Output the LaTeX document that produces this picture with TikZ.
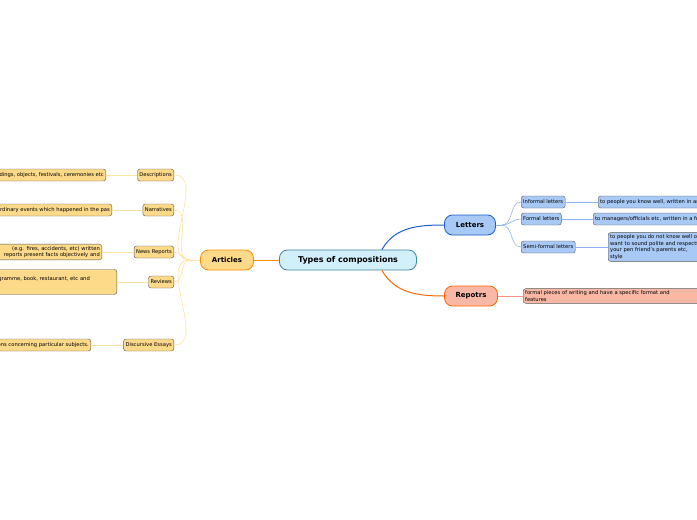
\documentclass[tikz,border=0pt]{standalone}
\usepackage{fontspec}
\setmainfont{DejaVu Sans}
\begin{document}
\begin{tikzpicture}[x=1pt,y=-1pt,
  base/.style={rounded corners=2.5pt,draw,inner sep=2pt,font=\fontsize{5.2}{6.6}\selectfont,align=left},
  ychild/.style={base,fill=yfill,draw=gray!70!black,minimum height=12pt},
  bchild/.style={base,fill=bfill,draw=gray!70!black,minimum height=12pt},
  rchild/.style={base,fill=rfill,draw=gray!70!black,minimum height=12pt},
  big/.style={rounded corners=8pt,draw,line width=0.8pt,font=\bfseries\fontsize{7}{8}\selectfont,minimum height=20pt},
  yl/.style={draw=yline,line width=0.6pt},
  bl/.style={draw=bline,line width=0.6pt}]
\definecolor{yfill}{HTML}{FDD98A}
\definecolor{bfill}{HTML}{A8C9F5}
\definecolor{rfill}{HTML}{F8B8A5}
\definecolor{yline}{HTML}{FDE3A0}
\definecolor{bline}{HTML}{8FB6F0}
\definecolor{bmain}{HTML}{1A5FCC}
\useasboundingbox (0,0) rectangle (697,520);
\clip (0,0) rectangle (697,520);
% main
\node[big,fill=cyan!18,draw=cyan!60!black,minimum width=137pt,font=\bfseries\fontsize{8}{9}\selectfont] (c) at (348,260) {Types of compositions};
\node[big,fill=yfill,draw=orange!90!yellow,minimum width=53pt] (art) at (227,260) {Articles};
\node[big,fill=bfill,draw=bmain,minimum width=51pt] (let) at (470,225) {Letters};
\node[big,fill=rfill,draw=orange!80!red,minimum width=53pt] (rep) at (471,296) {Repotrs};
\draw[draw=orange!90!yellow,line width=1pt] (c.west) -- (art.east);
\draw[draw=bmain,line width=1pt] (c.north east) ++(-35,0) to[out=60,in=180] (let.west);
\draw[draw=orange!80!red,line width=1pt] (c.south east) ++(-35,0) to[out=-60,in=180] (rep.west);
% article children
\node[ychild,anchor=east] (d) at (174,175) {Descriptions};
\node[ychild,anchor=east] (n) at (174,210) {Narratives};
\node[ychild,anchor=east] (nr) at (174,252) {News Reports};
\node[ychild,anchor=east] (rv) at (174,282) {Reviews};
\node[ychild,anchor=east] (de) at (174,345) {Discursive Essays};
\foreach \k in {d,n,nr,rv,de} \draw[yl] (art.west) ++(-10,0) to[out=180,in=0] (\k.east);
\draw[yl] (art.west) -- ++(-10,0);
\node[ychild,anchor=east] (dd) at (106,175) {Descriptions of people, places, buildings, objects, festivals, ceremonies etc};
\node[ychild,anchor=east] (nd) at (112,210) {Narratives about ordinary or extraordinary events which happened in the pas};
\node[ychild,anchor=east,text width=130pt] (nrd) at (102,252) {\hfill(e.g. fires, accidents, etc) written\\\hfill reports present facts objectively and};
\node[ychild,anchor=east,text width=125pt,minimum height=25pt] (rvd) at (117,282) {programme, book, restaurant, etc and\\t.};
\node[ychild,anchor=east] (ded) at (91,345) {Discursive essays present opinions concerning particular subjects.};
\draw[yl] (d.west) -- (dd.east); \draw[yl] (n.west) -- (nd.east);
\draw[yl] (nr.west) -- (nrd.east); \draw[yl] (rv.west) -- (rvd.east);
\draw[yl] (de.west) -- (ded.east);
% letters children
\node[bchild,anchor=west] (il) at (521,202) {Informal letters};
\node[bchild,anchor=west] (fl) at (521,219) {Formal letters};
\node[bchild,anchor=west] (sl) at (521,247) {Semi-formal letters};
\foreach \k in {il,fl,sl} \draw[bl] (let.east) ++(6,0) to[out=0,in=180] (\k.west);
\draw[bl] (let.east) -- ++(6,0);
\node[bchild,anchor=west] (ild) at (598,202) {to people you know well, written in an informal style};
\node[bchild,anchor=west] (fld) at (593,219) {to managers/officials etc, written in a formal style};
\node[bchild,anchor=west,text width=120pt] (sld) at (608,247) {to people you do not know well or\\want to sound polite and respectful\\your pen friend's parents etc,\\style};
\draw[bl] (il.east) -- (ild.west); \draw[bl] (fl.east) -- (fld.west); \draw[bl] (sl.east) -- (sld.west);
\node[rchild,anchor=west,text width=190pt] (rd) at (523,296) {formal pieces of writing and have a specific format and\\features};
\draw[draw=rfill!80!red,line width=0.6pt] (rep.east) -- (rd.west);
\end{tikzpicture}
\end{document}
